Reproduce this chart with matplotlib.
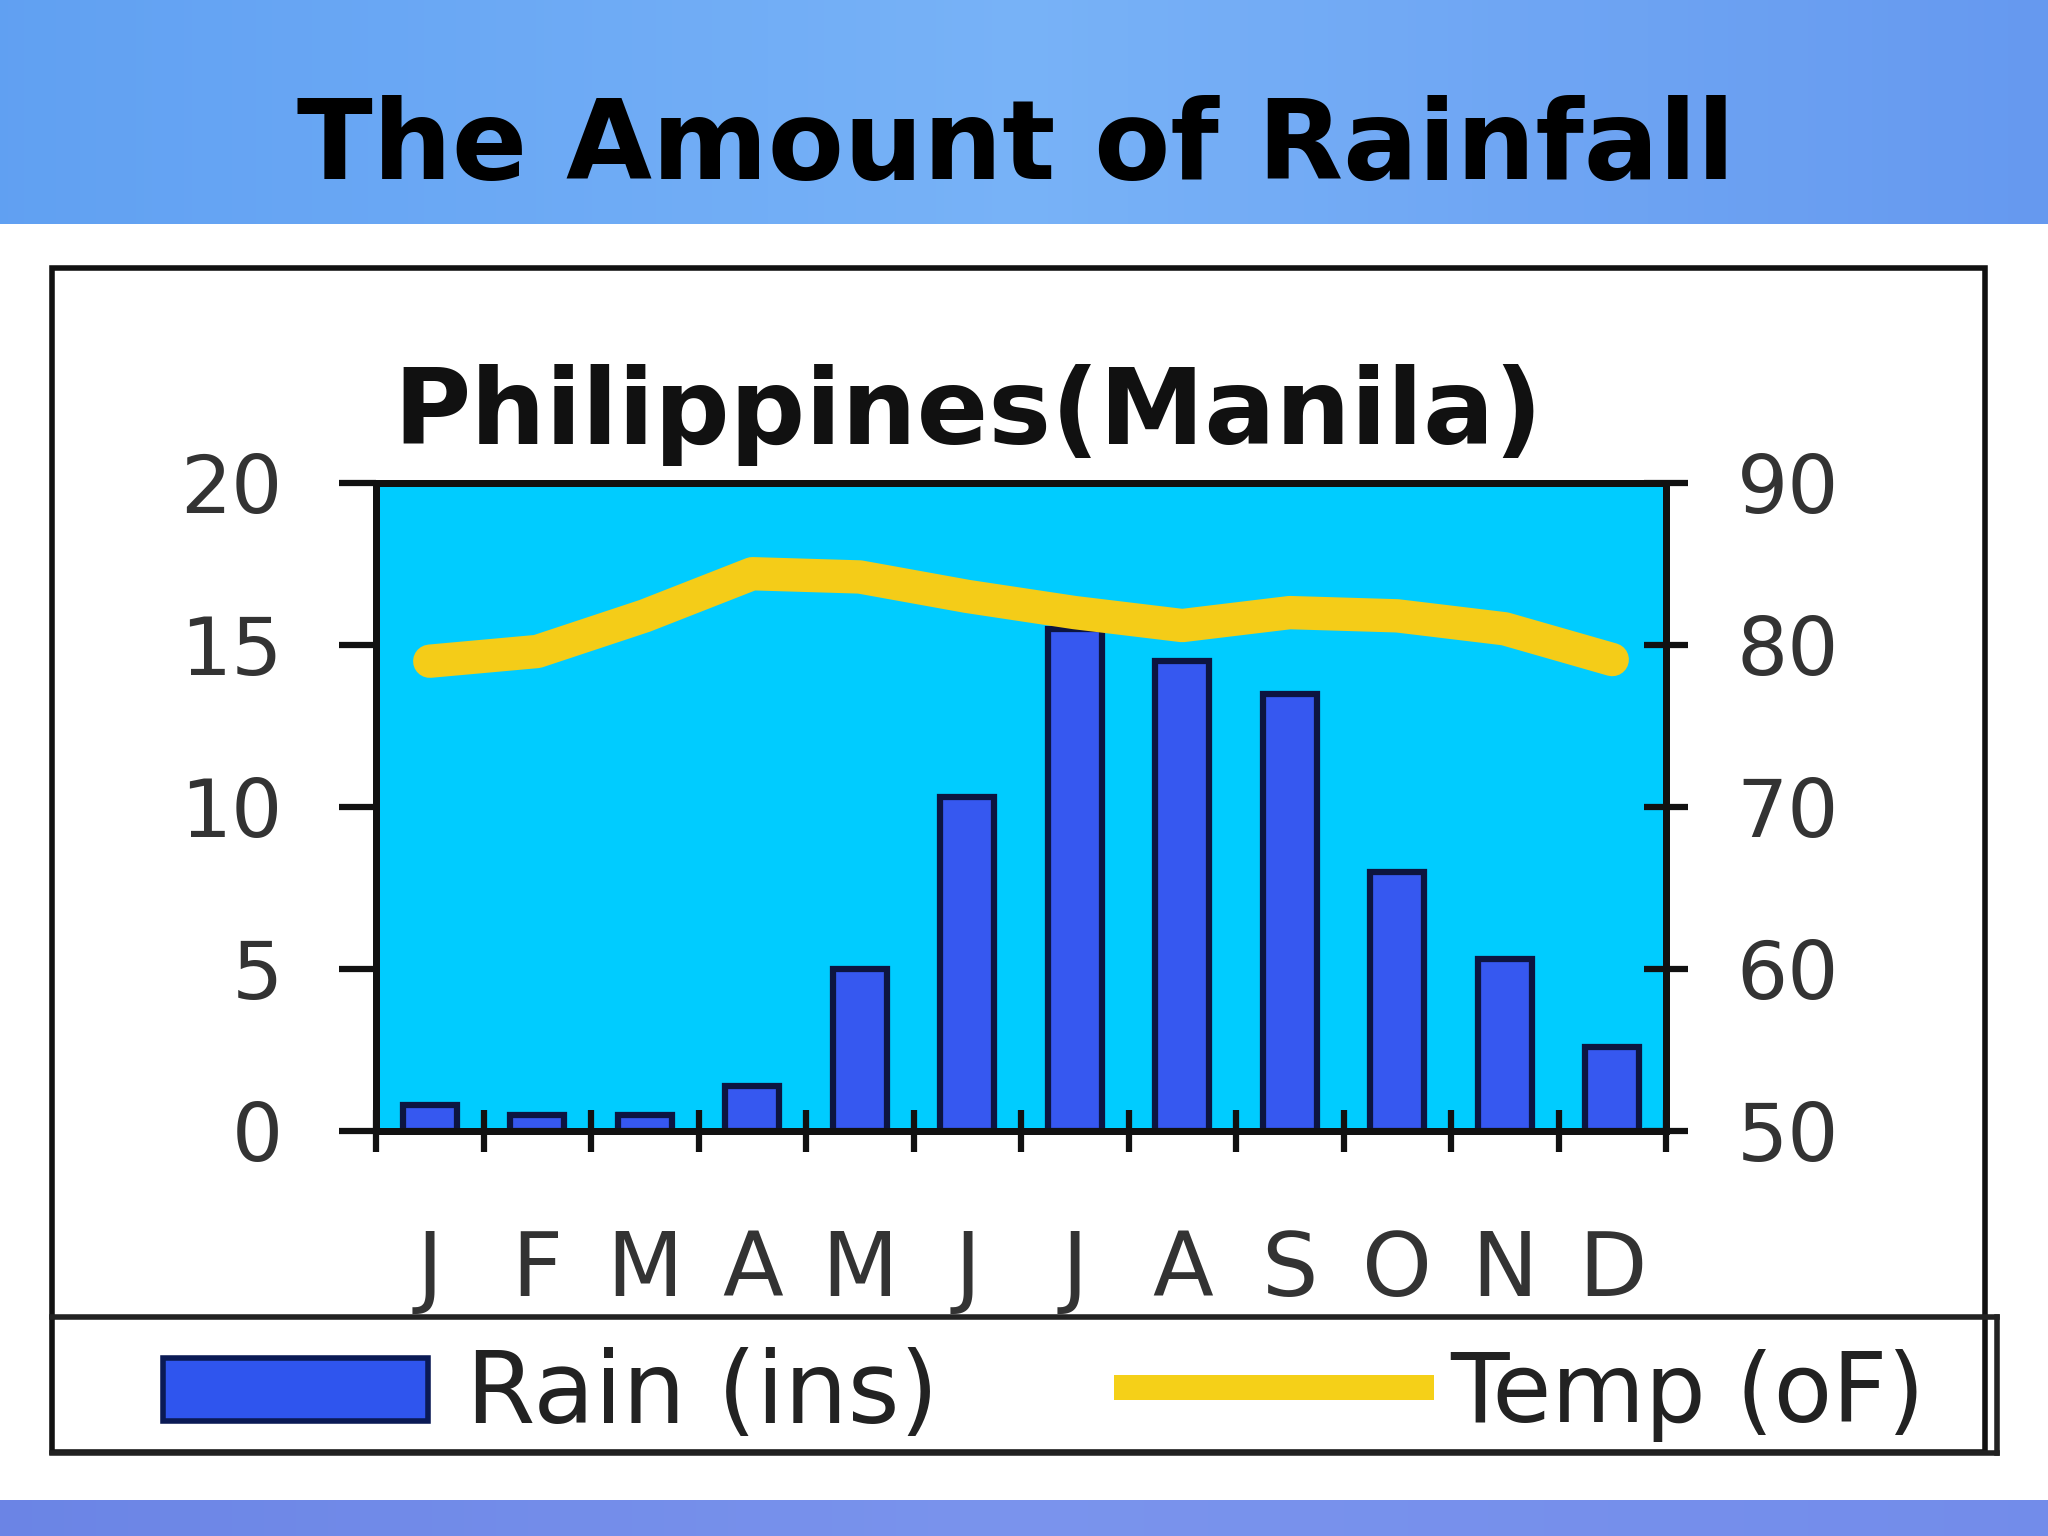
import numpy as np
import matplotlib
matplotlib.use('Agg')
import matplotlib.pyplot as plt
from matplotlib.patches import Rectangle
from matplotlib.lines import Line2D

months = ['J', 'F', 'M', 'A', 'M', 'J', 'J', 'A', 'S', 'O', 'N', 'D']
rain_ins = [0.8, 0.5, 0.5, 1.4, 5.0, 10.3, 15.5, 14.5, 13.5, 8.0, 5.3, 2.6]
temp_f = [79.0, 79.6, 81.8, 84.4, 84.2, 83.0, 82.0, 81.2, 82.0, 81.8, 81.0, 79.1]
rain_ticks = [0, 5, 10, 15, 20]
temp_ticks = [50, 60, 70, 80, 90]

W, H = 2048, 1536
fig = plt.figure(figsize=(W / 100, H / 100), dpi=100)
fig.patch.set_facecolor('white')

# background: slide banners + frame (pixel coords)
bg = fig.add_axes([0, 0, 1, 1])
bg.axis('off')
grad = np.linspace(0, 1, 256)
top_cols = np.array([[0.38, 0.63, 0.95], [0.47, 0.70, 0.97], [0.40, 0.60, 0.94]])
row = np.array([np.interp(grad, [0, 0.5, 1], top_cols[:, k]) for k in range(3)]).T
bg.imshow(row[np.newaxis, :, :], extent=[0, W, 224, 0], aspect='auto', zorder=0)
bot_cols = np.array([[0.42, 0.52, 0.90], [0.48, 0.58, 0.93], [0.45, 0.55, 0.92]])
row2 = np.array([np.interp(grad, [0, 0.5, 1], bot_cols[:, k]) for k in range(3)]).T
bg.imshow(row2[np.newaxis, :, :], extent=[0, W, H, 1500], aspect='auto', zorder=0)
bg.set_xlim(0, W)
bg.set_ylim(H, 0)

bg.add_patch(Rectangle((52, 268), 1933, 1184, fill=False, lw=4, ec='#111111', zorder=2))
bg.plot([52, 1997], [1317, 1317], color='#222222', lw=4, zorder=2)
bg.plot([1997, 1997], [1317, 1453], color='#222222', lw=4, zorder=2)
bg.plot([52, 1997], [1453, 1453], color='#222222', lw=4, zorder=2)

bg.text(1016, 179, 'The Amount of Rainfall', ha='center', va='baseline',
        fontsize=80, fontweight='bold', color='black')
bg.text(968, 444, 'Philippines(Manila)', ha='center', va='baseline',
        fontsize=76, fontweight='bold', color='#111111')

# legend (drawn by hand, like the original graphic)
bg.add_patch(Rectangle((163, 1358), 265, 63, fc='#2f55ee', ec='#0a1a55', lw=4, zorder=3))
bg.text(466, 1395, 'Rain (ins)', ha='left', va='center', fontsize=72, color='#222222')
bg.add_line(Line2D([1126, 1421], [1387, 1387], color='#f5d018', lw=18, zorder=3))
bg.text(1450, 1395, 'Temp (oF)', ha='left', va='center', fontsize=69, color='#222222')

# main chart
ax = fig.add_axes([376 / W, 1 - 1131 / H, 1290 / W, 648 / H])
ax.set_facecolor('#00ccff')
x = np.arange(len(months))
ax.bar(x, rain_ins, width=0.5, color='#3658f0', edgecolor='#0d1540', linewidth=4.5, zorder=2)
ax.set_xlim(-0.5, len(months) - 0.5)
ax.set_ylim(rain_ticks[0], rain_ticks[-1])
ax.set_yticks(rain_ticks)
ax.set_xticks(np.arange(-0.5, len(months), 1.0))
ax.set_xticklabels([])
ax.set_xticks(x, minor=True)
ax.set_xticklabels(months, minor=True)
ax.tick_params(axis='x', which='major', direction='inout', length=30, width=4.5, color='#111111')
ax.tick_params(axis='x', which='minor', length=0, pad=70, labelsize=64, labelcolor='#333333')
ax.tick_params(axis='y', direction='out', length=27, width=4.5, color='#111111',
               labelsize=58, labelcolor='#333333', pad=40)
for s in ax.spines.values():
    s.set_linewidth(5)
    s.set_color('#111111')

ax2 = ax.twinx()
ax2.plot(x, temp_f, color='#f4cc18', lw=24, solid_capstyle='round', solid_joinstyle='round', zorder=3)
ax2.set_ylim(temp_ticks[0], temp_ticks[-1])
ax2.set_yticks(temp_ticks)
ax2.tick_params(axis='y', direction='inout', length=32, width=4.5, color='#111111',
                labelsize=58, labelcolor='#333333', pad=35)
for s in ax2.spines.values():
    s.set_linewidth(5)
    s.set_color('#111111')

fig.savefig('out.png', dpi=100)
